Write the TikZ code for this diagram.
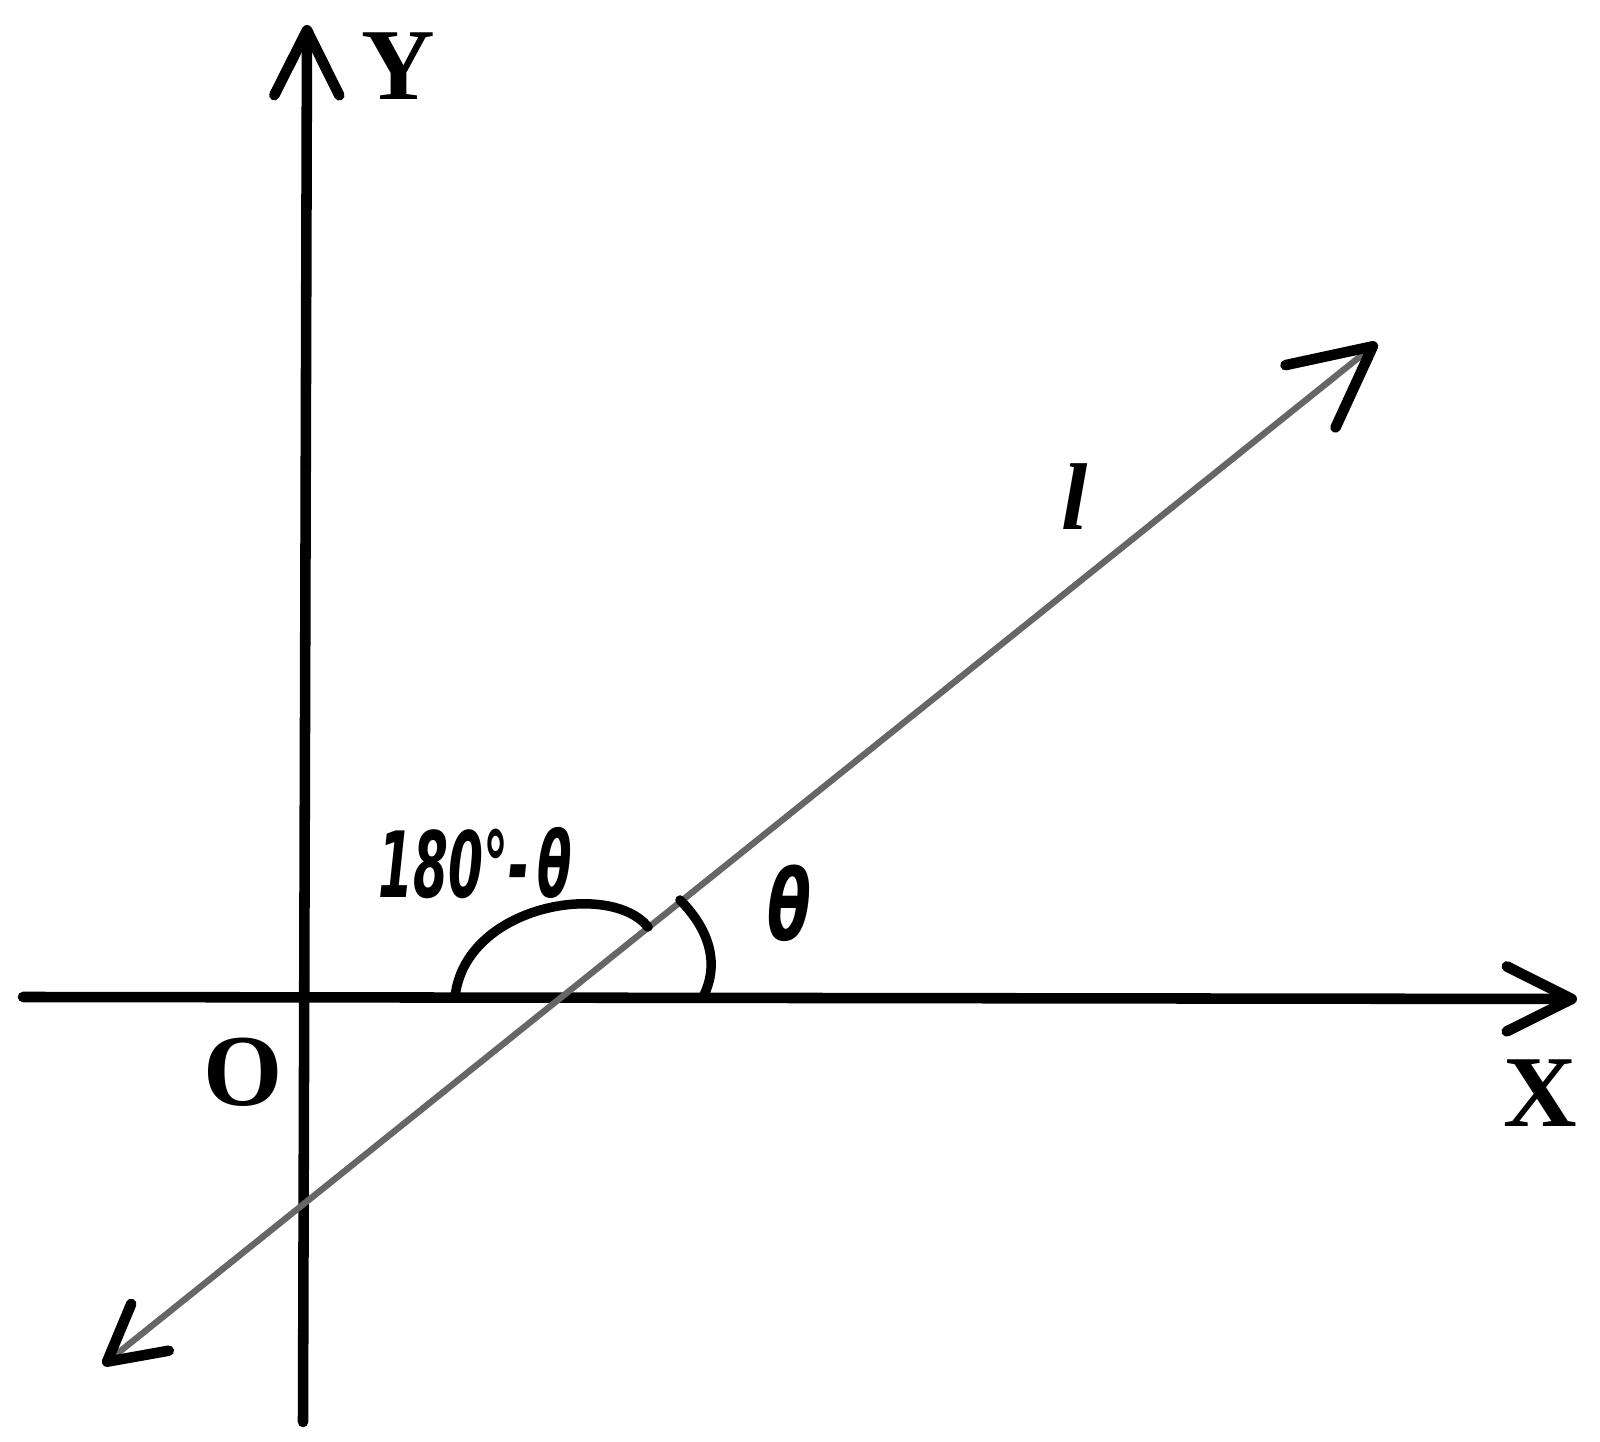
\documentclass[tikz,border=0pt]{standalone}
\usepackage{fontspec}
\usepackage{graphicx}
\setmainfont{Liberation Serif}
\newfontfamily\handfont{DejaVu Sans}
\usetikzlibrary{arrows.meta}

\tikzset{
  axis/.style={line width=3pt, line cap=round, -{Straight Barb[round,length=6.5mm,width=6.5mm]}},
  slope/.style={line width=1.8pt, black!60, line cap=round,
    {Straight Barb[black,round,line width=3pt,length=5.5mm,width=6mm]}-{Straight Barb[black,round,line width=3pt,length=8mm,width=8mm]}},
  anglearc/.style={line width=2.7pt, line cap=round},
  axislabel/.style={font=\fontsize{29}{30}\selectfont\bfseries},
  hand/.style={font=\fontsize{28}{30}\selectfont\handfont\bfseries\itshape}
}

\begin{document}
\begin{tikzpicture}
      \useasboundingbox (0,0) rectangle (16,14.41);

      \coordinate (ytop) at (3.07,14.16);
      \coordinate (ybot) at (3.03,0.19);
      \coordinate (xleft) at (0.23,4.44);
      \coordinate (xright) at (15.77,4.42);
      \coordinate (lbot) at (1.03,0.76);
      \coordinate (ltop) at (13.77,10.98);

      \node[axislabel] (ylab) at (3.98,13.75) {Y};
      \node[axislabel] (xlab) at (15.40,3.48) {X};
      \node[axislabel] (olab) at (2.43,3.69) {O};
      \node[font=\fontsize{27}{30}\selectfont\bfseries] (llab) at (10.75,9.44) {\textit{l}};
      \node[hand] (thlab) at (7.89,5.38) {\scalebox{0.65}[1]{θ}};
      \node[hand,font=\fontsize{26}{30}\selectfont\handfont\bfseries\itshape] (suplab) at (4.75,5.78) {\scalebox{0.55}[1]{180°-\,θ}};

      \draw[axis] (ybot) -- (ytop);
      \draw[axis] (xleft) -- (xright);
      \draw[slope] (lbot) -- (ltop);

      % angle marks
      \draw[anglearc] (4.55,4.44) .. controls (4.65,5.36) and (6.10,5.61) .. (6.48,5.14);
      \draw[anglearc] (6.80,5.41) .. controls (7.05,5.16) and (7.22,4.81) .. (7.03,4.44);

    \end{tikzpicture}
\end{document}
